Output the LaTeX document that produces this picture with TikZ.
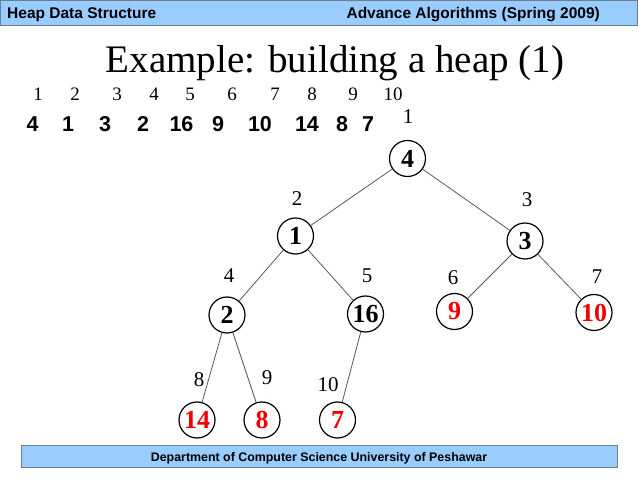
\documentclass[tikz,border=0pt]{standalone}
\usepackage{fontspec}
\setmainfont{Liberation Serif}
\newfontfamily\arial{Liberation Sans}
\definecolor{barblue}{HTML}{99CCFF}
\definecolor{barline}{HTML}{6F7F8F}
\definecolor{edgegray}{HTML}{5A5A5A}
\definecolor{leafred}{HTML}{F00000}
\begin{document}
\begin{tikzpicture}[x=1pt,y=-1pt,
  bartext/.style={font=\arial\bfseries\fontsize{15.5}{15.5}\selectfont, inner sep=0pt},
  foottext/.style={font=\arial\bfseries\fontsize{12.4}{12.4}\selectfont, inner sep=0pt},
  idx/.style={font=\fontsize{19}{19}\selectfont, inner sep=0pt, anchor=base},
  val/.style={font=\arial\bfseries\fontsize{21.5}{21.5}\selectfont, inner sep=0pt, anchor=base},
  hnode/.style={circle, draw=black, line width=1.2pt, minimum size=36pt, inner sep=0pt,
     font=\bfseries\fontsize{26}{26}\selectfont},
  leaf/.style={hnode, text=leafred},
  poslabel/.style={font=\fontsize{21}{21}\selectfont, inner sep=0pt},
  edge/.style={draw=edgegray, line width=0.8pt}]
\useasboundingbox (0,0) rectangle (638,478);
\fill[white] (0,0) rectangle (638,478);
% header bar
\draw[fill=barblue, draw=barline, line width=1pt] (0.5,0.5) rectangle (637,25.5);
\node[bartext, anchor=base west] (ht1) at (7,18.5) {Heap Data Structure};
\node[bartext, anchor=base east] (ht2) at (600,18.5) {Advance Algorithms (Spring 2009)};
% footer bar
\draw[fill=barblue, draw=barline, line width=1pt] (21,446) rectangle (617,468);
\node[foottext, anchor=base] (ft) at (319,462) {Department of Computer Science University of Peshawar};
% title
\node[inner sep=0pt, anchor=base, font=\fontsize{39}{39}\selectfont] (title) at (335,73) {Example: building a heap (1)};
% array indices
\node[idx] (i1) at (38,101) {1};
\node[idx] (i2) at (75,101) {2};
\node[idx] (i3) at (117,101) {3};
\node[idx] (i4) at (154,101) {4};
\node[idx] (i5) at (190,101) {5};
\node[idx] (i6) at (232,101) {6};
\node[idx] (i7) at (275,101) {7};
\node[idx] (i8) at (312,101) {8};
\node[idx] (i9) at (353,101) {9};
\node[idx] (i10) at (393,101) {10};
% array values
\node[val] (v1) at (32.5,131.5) {4};
\node[val] (v2) at (68,131.5) {1};
\node[val] (v3) at (105,131.5) {3};
\node[val] (v4) at (143,131.5) {2};
\node[val] (v5) at (181.5,131.5) {16};
\node[val] (v6) at (218,131.5) {9};
\node[val] (v7) at (260,131.5) {10};
\node[val] (v8) at (307,131.5) {14};
\node[val] (v9) at (342,131.5) {8};
\node[val] (v10) at (368,131.5) {7};
% tree nodes
\node[hnode] (n1) at (407.5,158.5) {4};
\node[hnode] (n2) at (295.5,236) {1};
\node[hnode] (n3) at (525,241) {3};
\node[hnode] (n4) at (227,315) {2};
\node[hnode] (n5) at (365.5,314) {16};
\node[leaf] (n6) at (454.5,311.5) {9};
\node[leaf] (n7) at (594,312.5) {10};
\node[leaf] (n8) at (197,420) {14};
\node[leaf] (n9) at (262,420) {8};
\node[leaf] (n10) at (337.5,420) {7};
% position labels
\node[poslabel] (p1) at (408,117) {1};
\node[poslabel] (p2) at (297,199) {2};
\node[poslabel] (p3) at (527,200) {3};
\node[poslabel] (p4) at (229,276) {4};
\node[poslabel] (p5) at (367,276) {5};
\node[poslabel] (p6) at (453,278) {6};
\node[poslabel] (p7) at (597,277) {7};
\node[poslabel] (p8) at (199,380) {8};
\node[poslabel] (p9) at (267,378) {9};
\node[poslabel] (p10) at (328,385) {10};
% edges
\path[edge] (n1) -- (n2);
\path[edge] (n1) -- (n3);
\path[edge] (n2) -- (n4);
\path[edge] (n2) -- (n5);
\path[edge] (n3) -- (n6);
\path[edge] (n3) -- (n7);
\path[edge] (n4) -- (n8);
\path[edge] (n4) -- (n9);
\path[edge] (n5) -- (n10);
\end{tikzpicture}
\end{document}
